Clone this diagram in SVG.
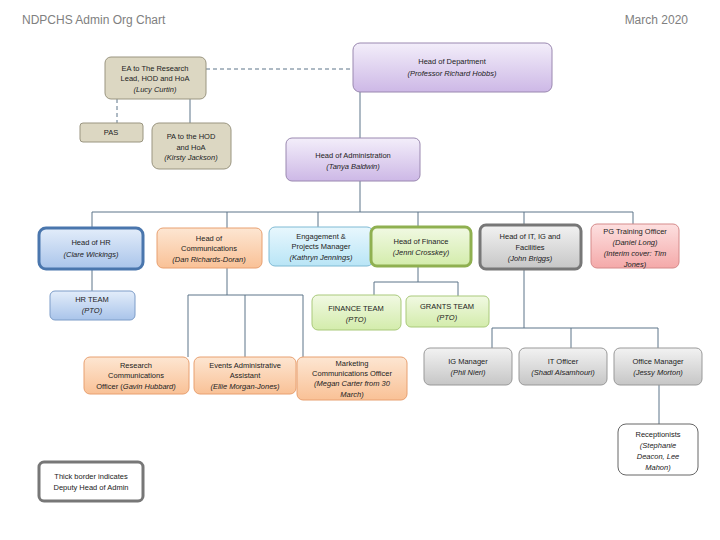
<svg xmlns="http://www.w3.org/2000/svg" width="720" height="540" viewBox="0 0 720 540">
<defs>
<linearGradient id="gP" x1="0" y1="0" x2="0" y2="1"><stop offset="0" stop-color="#f3eefa"/><stop offset="1" stop-color="#cdb8e6"/></linearGradient>
<linearGradient id="gB" x1="0" y1="0" x2="0" y2="1"><stop offset="0" stop-color="#e3edfa"/><stop offset="1" stop-color="#a9c4ea"/></linearGradient>
<linearGradient id="gO" x1="0" y1="0" x2="0" y2="1"><stop offset="0" stop-color="#fde6d2"/><stop offset="1" stop-color="#f9c196"/></linearGradient>
<linearGradient id="gC" x1="0" y1="0" x2="0" y2="1"><stop offset="0" stop-color="#e8f7fd"/><stop offset="1" stop-color="#b9e5f6"/></linearGradient>
<linearGradient id="gG" x1="0" y1="0" x2="0" y2="1"><stop offset="0" stop-color="#f1f9e3"/><stop offset="1" stop-color="#d3ecab"/></linearGradient>
<linearGradient id="gY" x1="0" y1="0" x2="0" y2="1"><stop offset="0" stop-color="#f2f2f2"/><stop offset="1" stop-color="#c6c6c6"/></linearGradient>
<linearGradient id="gR" x1="0" y1="0" x2="0" y2="1"><stop offset="0" stop-color="#fde0e0"/><stop offset="1" stop-color="#f4a9a9"/></linearGradient>
</defs>
<style>
text{font-family:"Liberation Sans",Arial,sans-serif;font-size:7.5px;fill:#222;text-anchor:middle}
.i{font-style:italic}
.t{font-size:12px;fill:#808080;text-anchor:start}
.tan{fill:#dcd7c2;stroke:#9a9580}
.c line,.c polyline{stroke:#5d7489;stroke-width:1;fill:none}
.d{stroke-dasharray:4 3}
</style>
<rect width="720" height="540" fill="#fff"/>
<text class="t" x="22" y="24">NDPCHS Admin Org Chart</text>
<text class="t" x="688" y="24" style="text-anchor:end">March 2020</text>
<g class="c" id="connectors">
<line class="d" x1="206" y1="69" x2="353" y2="69"/>
<line class="d" x1="117" y1="99" x2="117" y2="123"/>
<line x1="190" y1="99" x2="190" y2="123"/>
<line x1="360" y1="92" x2="360" y2="138"/>
<line x1="360" y1="181" x2="360" y2="212"/>
<polyline points="92,227 92,212 633,212 633,224"/>
<line x1="227" y1="212" x2="227" y2="228"/>
<line x1="318" y1="212" x2="318" y2="227"/>
<line x1="418" y1="212" x2="418" y2="226"/>
<line x1="524" y1="212" x2="524" y2="224"/>
<line x1="92" y1="269" x2="92" y2="291"/>
<line x1="227" y1="268" x2="227" y2="295"/>
<polyline points="188,357 188,295 303,295 303,357"/>
<line x1="245" y1="295" x2="245" y2="357"/>
<line x1="418" y1="266" x2="418" y2="282"/>
<polyline points="374,295 374,282 458,282 458,296"/>
<line x1="524" y1="269" x2="524" y2="328"/>
<polyline points="492,348 492,328 658,328 658,348"/>
<line x1="571" y1="328" x2="571" y2="348"/>
<line x1="659" y1="385" x2="659" y2="424"/>
</g>
<g id="hod"><rect x="353" y="43" width="199" height="49" rx="7" fill="url(#gP)" stroke="#9a88b0"/><text x="452" y="64">Head of Department</text><text class="i" x="452" y="76">(Professor Richard Hobbs)</text></g>
<g id="ea"><rect class="tan" x="105" y="57" width="101" height="42" rx="6"/><text x="155" y="71">EA to The Research</text><text x="155" y="81">Lead, HOD and HoA</text><text class="i" x="155" y="92">(Lucy Curtin)</text></g>
<g id="pas"><rect class="tan" x="80" y="123" width="63" height="19" rx="3"/><text x="111" y="135">PAS</text></g>
<g id="pa"><rect class="tan" x="152" y="123" width="79" height="46" rx="7"/><text x="191" y="139">PA to the HOD</text><text x="191" y="150">and HoA</text><text class="i" x="191" y="160">(Kirsty Jackson)</text></g>
<g id="hoa"><rect x="286" y="138" width="134" height="43" rx="6" fill="url(#gP)" stroke="#9a88b0"/><text x="353" y="158">Head of Administration</text><text class="i" x="353" y="169">(Tanya Baldwin)</text></g>
<g id="hr"><rect x="39" y="228" width="104" height="41" rx="7" fill="url(#gB)" stroke="#4a76ad" stroke-width="3"/><text x="91" y="245">Head of HR</text><text class="i" x="91" y="257">(Clare Wickings)</text></g>
<g id="comms"><rect x="157" y="228" width="105" height="40" rx="6" fill="url(#gO)" stroke="#e8a070"/><text x="209" y="241">Head of</text><text x="209" y="251">Communications</text><text class="i" x="209" y="262">(Dan Richards-Doran)</text></g>
<g id="eng"><rect x="269" y="227" width="104" height="39" rx="6" fill="url(#gC)" stroke="#7fbad4"/><text x="321" y="239">Engagement &amp;</text><text x="321" y="249">Projects Manager</text><text class="i" x="321" y="260">(Kathryn Jennings)</text></g>
<g id="fin"><rect x="371" y="227" width="100" height="39" rx="6" fill="url(#gG)" stroke="#8fb050" stroke-width="3"/><text x="421" y="244">Head of Finance</text><text class="i" x="421" y="255">(Jenni Crosskey)</text></g>
<g id="it"><rect x="480" y="225" width="101" height="44" rx="6" fill="url(#gY)" stroke="#777" stroke-width="3"/><text x="530" y="239">Head of IT, IG and</text><text x="530" y="250">Facilities</text><text class="i" x="530" y="261">(John Briggs)</text></g>
<g id="pg"><rect x="591" y="224" width="88" height="44" rx="6" fill="url(#gR)" stroke="#d58a8a"/><text x="635" y="234">PG Training Officer</text><text class="i" x="635" y="245">(Daniel Long)</text><text class="i" x="635" y="256">(Interim cover: Tim</text><text class="i" x="635" y="267">Jones)</text></g>
<g id="hrteam"><rect x="50" y="291" width="85" height="29" rx="5" fill="url(#gB)" stroke="#7c9cc8"/><text x="92" y="302">HR TEAM</text><text class="i" x="92" y="313">(PTO)</text></g>
<g id="finteam"><rect x="312" y="295" width="89" height="35" rx="6" fill="url(#gG)" stroke="#a9c97a"/><text x="356" y="311">FINANCE TEAM</text><text class="i" x="356" y="322">(PTO)</text></g>
<g id="grants"><rect x="406" y="296" width="83" height="31" rx="5" fill="url(#gG)" stroke="#a9c97a"/><text x="447" y="309">GRANTS TEAM</text><text class="i" x="447" y="320">(PTO)</text></g>
<g id="rco"><rect x="84" y="357" width="105" height="37" rx="6" fill="url(#gO)" stroke="#e8a070"/><text x="136" y="368">Research</text><text x="136" y="378">Communications</text><text x="136" y="389">Officer (<tspan class="i">Gavin Hubbard)</tspan></text></g>
<g id="events"><rect x="194" y="357" width="102" height="37" rx="6" fill="url(#gO)" stroke="#e8a070"/><text x="245" y="368">Events Administrative</text><text x="245" y="378">Assistant</text><text class="i" x="245" y="389">(Ellie Morgan-Jones)</text></g>
<g id="mco"><rect x="297" y="357" width="110" height="43" rx="6" fill="url(#gO)" stroke="#e8a070"/><text x="352" y="366">Marketing</text><text x="352" y="376">Communications Officer</text><text class="i" x="352" y="386">(Megan Carter from 30</text><text class="i" x="352" y="397">March)</text></g>
<g id="ig"><rect x="424" y="348" width="88" height="37" rx="6" fill="url(#gY)" stroke="#999"/><text x="468" y="364">IG Manager</text><text class="i" x="468" y="375">(Phil Nieri)</text></g>
<g id="ito"><rect x="519" y="348" width="88" height="37" rx="6" fill="url(#gY)" stroke="#999"/><text x="563" y="364">IT Officer</text><text class="i" x="563" y="375">(Shadi Alsamhouri)</text></g>
<g id="om"><rect x="614" y="348" width="88" height="37" rx="6" fill="url(#gY)" stroke="#999"/><text x="658" y="364">Office Manager</text><text class="i" x="658" y="375">(Jessy Morton)</text></g>
<g id="rec"><rect x="618" y="424" width="80" height="51" rx="8" fill="#fff" stroke="#666"/><text x="658" y="437">Receptionists</text><text class="i" x="658" y="448">(Stephanie</text><text class="i" x="658" y="459">Deacon, Lee</text><text class="i" x="658" y="470">Mahon)</text></g>
<g id="legend"><rect x="39" y="462" width="104" height="39" rx="5" fill="#fff" stroke="#777" stroke-width="3"/><text x="91" y="479">Thick border indicates</text><text x="91" y="490">Deputy Head of Admin</text></g>
</svg>
